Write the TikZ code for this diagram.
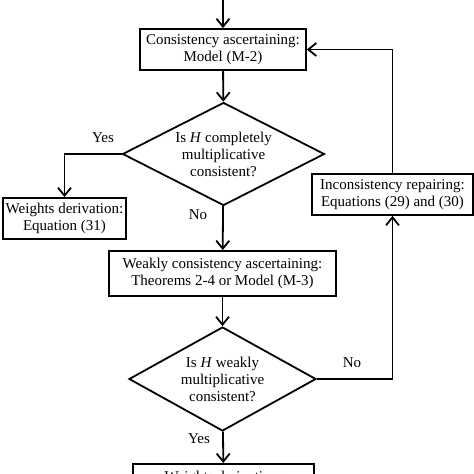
\documentclass[tikz,border=0pt]{standalone}
\usepackage{fontspec}
\setmainfont{Liberation Serif}
\usetikzlibrary{shapes.geometric,arrows.meta,positioning}

\tikzset{
    stepbox/.style={draw, line width=1.8pt, align=center, inner xsep=2pt, inner ysep=0pt, minimum height=41pt},
    decision/.style={draw, diamond, line width=1.8pt, align=center, aspect=2, inner sep=0pt},
    flow/.style={line width=1.8pt, -{Straight Barb[length=8pt,width=13pt]}},
}

\begin{document}
\begin{tikzpicture}[x=1pt,y=-1pt,font=\fontsize{15}{17}\selectfont]

    \useasboundingbox (0,0) rectangle (474,474);
    \clip (0,0) rectangle (474,474);

    % DRAW BOXES
    \node[stepbox, minimum width=166pt] (consist) at (223,49.5) {Consistency ascertaining:\\Model (M-2)};
    \node[stepbox, minimum width=123pt] (weights) at (64.5,218.5) {Weights derivation:\\Equation (31)};
    \node[stepbox, minimum width=227pt, minimum height=45pt] (weakcheck) at (222.5,273.5) {Weakly consistency ascertaining:\\Theorems 2-4 or Model (M-3)};
    \node[stepbox, minimum width=161pt] (repair) at (392.5,194.5) {Inconsistency repairing:\\Equations (29) and (30)};
    \node[stepbox, minimum width=181pt, anchor=north] (final) at (223.5,463) {\rule{0pt}{16pt}Weights derivation:\\ \strut};

    % DRAW DECISIONS
    \node[decision, minimum width=202pt, minimum height=103pt] (complete) at (223.5,154) {Is \textit{H} completely\\multiplicative\\consistent?};
    \node[decision, minimum width=187pt, minimum height=104pt] (weakly) at (222.5,379) {Is \textit{H} weakly\\multiplicative\\consistent?};

    % DRAW LABELS
    \node (yes1) at (103,138) {Yes};
    \node (no1) at (198,215) {No};
    \node (no2) at (352,363) {No};
    \node (yes2) at (199,439) {Yes};

    % DRAW ARROWS
    \coordinate (start) at (223,-5);
    \draw[flow] (start) -- (consist);
    \draw[flow] (consist) -- (complete);
    \draw[flow] (complete.west) -| (weights);
    \draw[flow] (complete) -- (weakcheck);
    \draw[flow] (weakcheck) -- (weakly);
    \draw[flow] (weakly) -- (final);
    \draw[flow] (weakly.east) -| (repair);
    \draw[flow] (repair) |- (consist);

\end{tikzpicture}
\end{document}
